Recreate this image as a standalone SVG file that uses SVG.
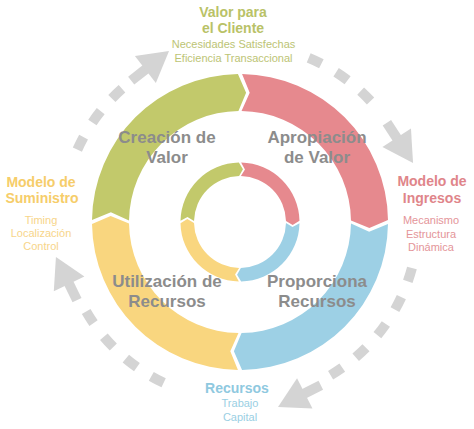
<svg xmlns="http://www.w3.org/2000/svg" width="474" height="429" viewBox="0 0 474 429">
<defs>
<style>
.seg-g{fill:#c2c96b}.seg-r{fill:#e6898e}.seg-b{fill:#9dd0e5}.seg-y{fill:#f9d67f}
.dash{fill:none;stroke:#d4d4d4;stroke-width:10;stroke-dasharray:14 17}
.head{fill:#d4d4d4}
.ring{font-family:"Liberation Sans",Arial,sans-serif;font-weight:bold;font-size:17px;fill:#8c8c8c;text-anchor:middle}
.ttl{font-family:"Liberation Sans",Arial,sans-serif;font-weight:bold;font-size:14px;text-anchor:middle}
.sub{font-family:"Liberation Sans",Arial,sans-serif;font-size:11px;text-anchor:middle}
</style>
<path id="outerSeg" d="M 92.01 219.93 A 148 148 0 0 1 237.93 74.01 L 246.10 92.64 L 238.45 111.01 A 111 111 0 0 0 129.01 220.45 L 110.86 212.29 Z"/>
<path id="innerSeg" d="M 180.51 220.86 A 59.5 59.5 0 0 1 238.86 162.51 L 242.94 169.33 L 239.12 176.01 A 46 46 0 0 0 194.01 221.12 L 187.48 217.04 Z"/>
<g id="arrowHead"><rect x="0" y="-5" width="20" height="10"/><polygon points="18,-17 48,0 18,17"/></g>
</defs>
<rect width="474" height="429" fill="#ffffff"/>
<g id="connectors">
<path class="dash" d="M 77.39 149.60 A 178 178 0 0 1 122.05 88.69"/>
<use href="#arrowHead" class="head" transform="translate(131.2 80.6) rotate(-38)"/>
<path class="dash" d="M 308.69 57.79 A 178 178 0 0 1 370.60 101.06"/>
<use href="#arrowHead" class="head" transform="translate(386.9 122.7) rotate(57)"/>
<path class="dash" d="M 411.94 268.07 A 178 178 0 0 1 330.61 375.21"/>
<use href="#arrowHead" class="head" transform="translate(320.8 385.2) rotate(153)"/>
<path class="dash" d="M 163.65 382.79 A 178 178 0 0 1 86.16 311.54"/>
<use href="#arrowHead" class="head" transform="translate(77 300.1) rotate(244)"/>
</g>
<g id="creacion-valor">
<use href="#outerSeg" class="seg-g"/>
<use href="#innerSeg" class="seg-g"/>
<text class="ring" x="167" y="143">Creación de</text>
<text class="ring" x="167" y="163">Valor</text>
</g>
<g id="apropiacion-valor">
<use href="#outerSeg" class="seg-r" transform="rotate(90 240 222)"/>
<use href="#innerSeg" class="seg-r" transform="rotate(90 240 222)"/>
<text class="ring" x="317" y="143">Apropiación</text>
<text class="ring" x="317" y="163">de Valor</text>
</g>
<g id="proporciona-recursos">
<use href="#outerSeg" class="seg-b" transform="rotate(180 240 222)"/>
<use href="#innerSeg" class="seg-b" transform="rotate(180 240 222)"/>
<text class="ring" x="317" y="287">Proporciona</text>
<text class="ring" x="317" y="307">Recursos</text>
</g>
<g id="utilizacion-recursos">
<use href="#outerSeg" class="seg-y" transform="rotate(270 240 222)"/>
<use href="#innerSeg" class="seg-y" transform="rotate(270 240 222)"/>
<text class="ring" x="167" y="287">Utilización de</text>
<text class="ring" x="167" y="307">Recursos</text>
</g>
<g id="valor-cliente">
<text class="ttl" x="233" y="17" fill="#b9c267">Valor para</text>
<text class="ttl" x="233" y="33" fill="#b9c267">el Cliente</text>
<text class="sub" x="233.5" y="48" fill="#bcc474">Necesidades Satisfechas</text>
<text class="sub" x="233.5" y="62" fill="#bcc474">Eficiencia Transaccional</text>
</g>
<g id="modelo-ingresos">
<text class="ttl" x="432" y="186" fill="#e0858a">Modelo de</text>
<text class="ttl" x="432" y="203" fill="#e0858a">Ingresos</text>
<text class="sub" x="431" y="224" fill="#e49599">Mecanismo</text>
<text class="sub" x="431" y="237.5" fill="#e49599">Estructura</text>
<text class="sub" x="431" y="251" fill="#e49599">Dinámica</text>
</g>
<g id="recursos">
<text class="ttl" x="237" y="393" fill="#8fc9df">Recursos</text>
<text class="sub" x="240" y="407" fill="#9acfe3">Trabajo</text>
<text class="sub" x="240" y="421" fill="#9acfe3">Capital</text>
</g>
<g id="modelo-suministro">
<text class="ttl" x="41" y="187" fill="#f6cd6a">Modelo de</text>
<text class="ttl" x="42" y="203" fill="#f6cd6a">Suministro</text>
<text class="sub" x="41" y="224" fill="#f7d58a">Timing</text>
<text class="sub" x="41" y="237" fill="#f7d58a">Localización</text>
<text class="sub" x="41" y="250" fill="#f7d58a">Control</text>
</g>
</svg>
